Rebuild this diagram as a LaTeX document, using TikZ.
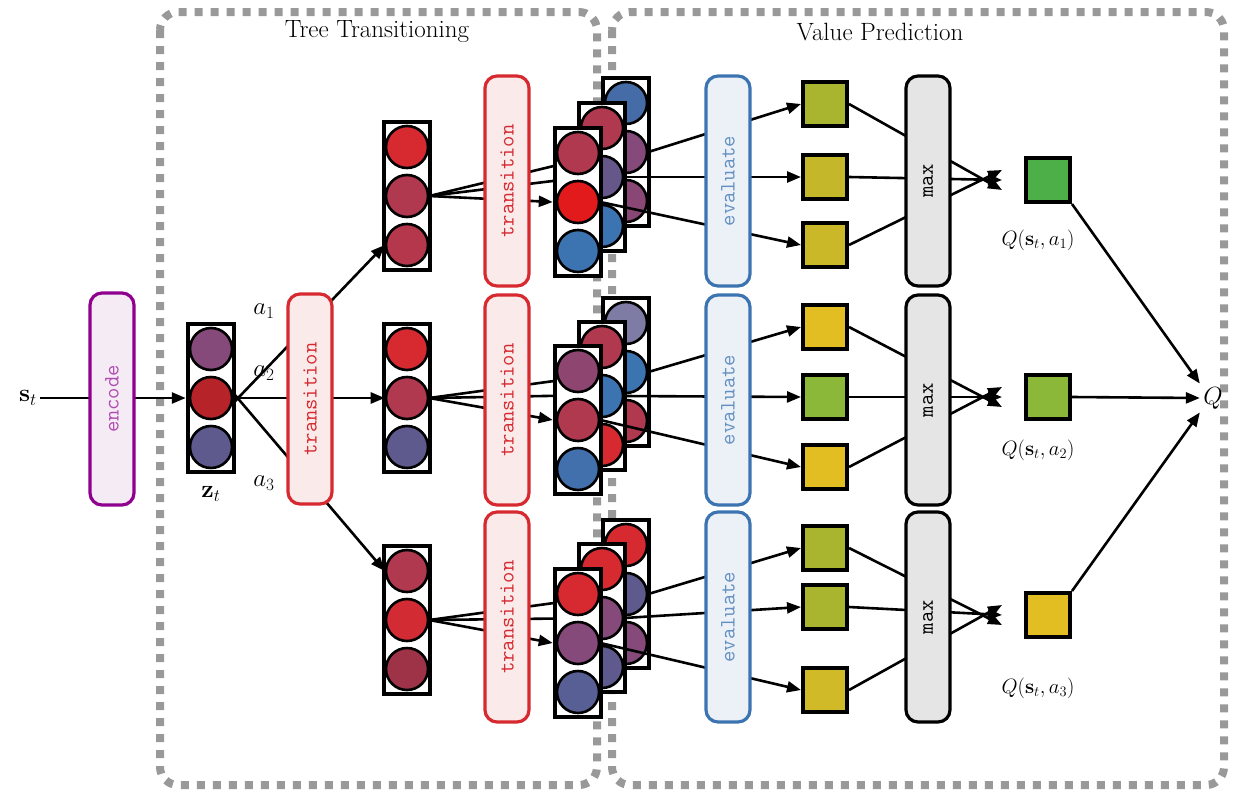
\documentclass[tikz,border=0pt]{standalone}
\usetikzlibrary{arrows.meta}
\begin{document}
\newcommand\mycol[6]{% name, cx, cy, c1,c2,c3
  \node[colbox] (#1) at (#2,#3) {};
  \node[cell,fill=#4] (#1-1) at (#2,#3-49) {};
  \node[cell,fill=#5] (#1-2) at (#2,#3) {};
  \node[cell,fill=#6] (#1-3) at (#2,#3+49) {};}
\begin{tikzpicture}[x=1pt,y=-1pt,
  colbox/.style={draw,line width=4.5pt,fill=white,minimum width=46pt,minimum height=148pt,inner sep=0},
  cell/.style={circle,draw,line width=2.6pt,minimum size=42pt,inner sep=0},
  sq/.style={draw,line width=4pt,fill=#1,minimum size=44pt,inner sep=0},
  op/.style={draw=#1,line width=3.2pt,rounded corners=12pt,minimum width=44pt,minimum height=210pt,inner sep=0},
  lab/.style={font=\fontsize{22}{24}\selectfont\ttfamily,rotate=90},
  ln/.style={line width=2.6pt},
  ar/.style={line width=2.6pt,-{Triangle[length=14pt,width=11pt]}},
  frame/.style={draw=black!40,line width=8pt,dash pattern=on 8pt off 8pt,rounded corners=18pt}]
\path[use as bounding box] (0,0) rectangle (1236,798);
\definecolor{rd}{HTML}{D62A30}\definecolor{mr}{HTML}{B0384F}\definecolor{pp}{HTML}{5E5A8E}
\definecolor{bl}{HTML}{3C74B2}\definecolor{pm}{HTML}{85497A}\definecolor{br}{HTML}{E31A1C}
\definecolor{yg}{HTML}{A9B52E}\definecolor{yy}{HTML}{E2BE22}\definecolor{gg}{HTML}{8CB83A}
\definecolor{yb}{HTML}{C4B72A}\definecolor{qg}{HTML}{4CAF47}
% dashed frames
\draw[frame] (160,12) rectangle (597,785);
\draw[frame] (612,12) rectangle (1224,785);
\node[font=\fontsize{25}{28}\selectfont] (t1) at (377,32) {Tree Transitioning};
\node[font=\fontsize{25}{28}\selectfont] (t2) at (880,32) {Value Prediction};
% input
\node[font=\fontsize{24}{26}\selectfont] (st) at (28,398) {$\mathbf{s}_t$};
\mycol{z}{211}{398}{pm}{rd!85!black}{pp}
\node[font=\fontsize{24}{26}\selectfont] (zl) at (211,494) {$\mathbf{z}_t$};
\draw[ar] (st) -- (z.west);
% level 2
\mycol{A}{407}{196}{rd}{mr}{mr!90!rd}
\mycol{B}{407}{398}{rd}{mr}{pp}
\mycol{C}{407}{620}{mr}{rd!90!mr}{mr!90!black}
\draw[ar] ([yshift=-5pt]z-2.east) -- (A-3.west);
\draw[ar] (z-2.east) -- (B-2.west);
\draw[ar] ([yshift=5pt]z-2.east) -- (C-1.west);
\node[font=\fontsize{24}{26}\selectfont] (a1) at (264,311) {$a_1$};
\node[font=\fontsize{24}{26}\selectfont] (a2) at (264,373) {$a_2$};
\node[font=\fontsize{24}{26}\selectfont] (a3) at (264,483) {$a_3$};
% lines to back stacked columns
\draw[ln] (A-2.east) -- (602,175);
\draw[ln] (A-2.east) -- (620,150);
\draw[ln] (B-2.east) -- (602,395);
\draw[ln] (B-2.east) -- (620,372);
\draw[ln] (C-2.east) -- (602,618);
\draw[ln] (C-2.east) -- (620,594);
% yellow squares
\node[sq=yg] (y11) at (825,104) {}; \node[sq=yb] (y12) at (825,177) {}; \node[sq=yb!80!yy] (y13) at (825,245) {};
\node[sq=yy] (y21) at (825,327) {}; \node[sq=gg] (y22) at (825,397) {}; \node[sq=yy] (y23) at (825,467) {};
\node[sq=yg] (y31) at (825,548) {}; \node[sq=yg] (y32) at (825,607) {}; \node[sq=yb!60!yy] (y33) at (825,690) {};
\mycol{A3}{626}{152}{bl!70!pp}{pm}{pm!90!mr}
\mycol{A2}{602}{177}{mr}{pp!80!pm}{bl}
\mycol{B3}{626}{372}{pp!80!white}{bl}{mr}
\mycol{B2}{602}{396}{mr}{bl}{rd}
\mycol{C3}{626}{594}{rd}{pp}{pm}
\mycol{C2}{602}{618}{rd}{pm}{pp}
\draw[ar] (A3-2.east) -- (y11.west);
\draw[ar] (A2-2.east) -- (y12.west);
\draw[ar] (B3-2.east) -- (y21.west);
\draw[ar] (B2-2.east) -- (y22.west);
\draw[ar] (C3-2.east) -- (y31.west);
\draw[ar] (C2-2.east) -- (y32.west);
\mycol{A1}{578}{202}{mr}{br}{bl}
\mycol{B1}{578}{420}{pm!80!mr}{mr}{bl!85!pp}
\mycol{C1}{578}{643}{rd}{pm}{pp!80!bl}
\draw[ar] (A-2.east) -- (A1.west|-A1-2);
\draw[ar] (B-2.east) -- (B1.west|-B1-2);
\draw[ar] (C-2.east) -- (C1.west|-C1-2);
\draw[ar] (A1-2.east) -- (y13.west);
\draw[ar] (B1-2.east) -- (y23.west);
\draw[ar] (C1-2.east) -- (y33.west);
% Q nodes
\node[sq=qg] (q1) at (1048,180) {};
\node[sq=gg] (q2) at (1048,397) {};
\node[sq=yy] (q3) at (1048,615) {};
\node[font=\fontsize{22}{24}\selectfont] (ql1) at (1038,240) {$Q(\mathbf{s}_t,a_1)$};
\node[font=\fontsize{22}{24}\selectfont] (ql2) at (1038,450) {$Q(\mathbf{s}_t,a_2)$};
\node[font=\fontsize{22}{24}\selectfont] (ql3) at (1038,688) {$Q(\mathbf{s}_t,a_3)$};
\foreach \r in {1,2,3}{
  \draw[ar] (y\r1.east) -- ([xshift=-22pt,yshift=-10pt]q\r.west);
  \draw[ar] (y\r2.east) -- ([xshift=-22pt]q\r.west);
  \draw[ar] (y\r3.east) -- ([xshift=-22pt,yshift=10pt]q\r.west);
}
\node[font=\fontsize{24}{26}\selectfont] (Q) at (1213,398) {$Q$};
\draw[ar] (q1.south east) -- (Q.north west);
\draw[ar] (q2.east) -- (Q.west);
\draw[ar] (q3.north east) -- (Q.south west);
% operator boxes on top
\node[op=violet!60!magenta!80!black,fill=violet!8,minimum height=212pt] (enc) at (112,399) {};
\node[lab,text=violet!60!magenta!80!black!70] at (enc) {encode};
\node[op=rd,fill=rd!10] (tr) at (310,399) {};
\node[lab,text=rd] at (tr) {transition};
\foreach \n/\y in {1/181,2/400,3/617}{
  \node[op=rd,fill=rd!10] (tr\n) at (507,\y) {};
  \node[lab,text=rd] at (tr\n) {transition};
  \node[op=bl,fill=bl!10] (ev\n) at (728,\y) {};
  \node[lab,text=bl!80!white] at (ev\n) {evaluate};
  \node[op=black,fill=black!10] (mx\n) at (928,\y) {};
  \node[lab,text=black] at (mx\n) {max};
}
\end{tikzpicture}
\end{document}
